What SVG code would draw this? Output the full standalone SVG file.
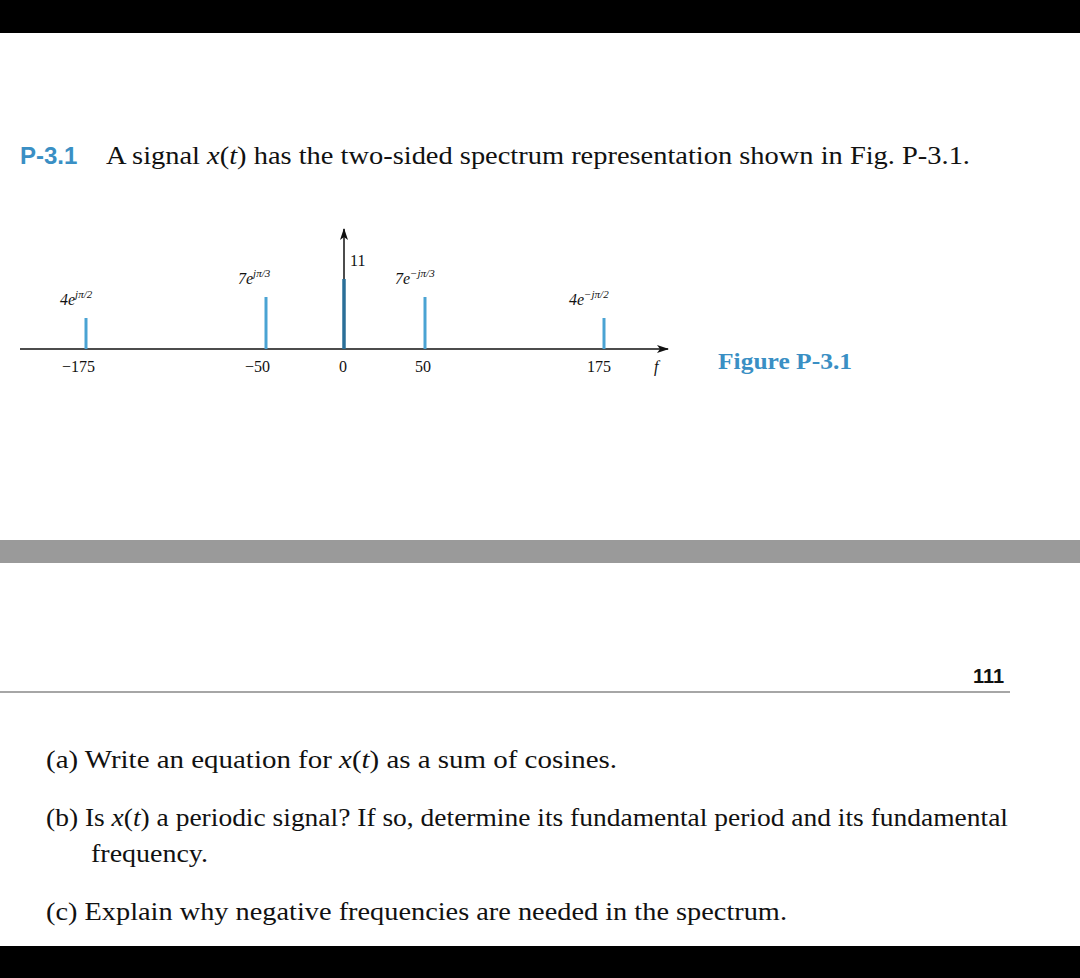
<svg xmlns="http://www.w3.org/2000/svg" width="1080" height="978" viewBox="0 0 1080 978">
<style>
.t{font-family:"Liberation Serif",serif;fill:#111}
.s{font-size:25px}
.m{font-size:16px}
.e{font-size:11px}
.stem{stroke:#4aa3d3;stroke-width:3}
</style>
<defs><marker id="ah" markerWidth="12" markerHeight="8" refX="11" refY="4" orient="auto" markerUnits="userSpaceOnUse"><path d="M0,0 L12,4 L0,8 L3,4 Z" fill="#111"/></marker></defs>
<rect width="1080" height="978" fill="#fff"/>
<rect x="0" y="0" width="1080" height="33" fill="#000"/>
<rect x="0" y="946" width="1080" height="32" fill="#000"/>
<rect x="0" y="540" width="1080" height="23" fill="#9a9a9a"/>
<text x="20" y="164" font-family="Liberation Sans,sans-serif" font-size="24" font-weight="bold" fill="#3a8fc4">P-3.1</text>
<text x="106" y="164" class="t s" textLength="864" lengthAdjust="spacingAndGlyphs">A signal <tspan font-style="italic">x</tspan>(<tspan font-style="italic">t</tspan>) has the two-sided spectrum representation shown in Fig. P-3.1.</text>
<g id="connectors">
<line x1="20" y1="349" x2="668" y2="349" stroke="#111" stroke-width="1.5" marker-end="url(#ah)"/>
<line x1="344" y1="349" x2="344" y2="229" stroke="#111" stroke-width="1.5" marker-end="url(#ah)"/>
</g>
<g id="s-175"><line class="stem" x1="86" y1="349" x2="86" y2="318"/><text x="60" y="305" class="t m" font-style="italic">4e<tspan class="e" dy="-7">jπ/2</tspan></text><text x="62" y="372" class="t m">−175</text></g>
<g id="s-50"><line class="stem" x1="266" y1="349" x2="266" y2="297"/><text x="238" y="284" class="t m" font-style="italic">7e<tspan class="e" dy="-7">jπ/3</tspan></text><text x="245" y="372" class="t m">−50</text></g>
<g id="s0"><line x1="344" y1="349" x2="344" y2="279" stroke="#2a6f98" stroke-width="3.5"/><text x="350" y="266" class="t m">11</text><text x="339" y="372" class="t m">0</text></g>
<g id="s50"><line class="stem" x1="425" y1="349" x2="425" y2="297"/><text x="395" y="284" class="t m" font-style="italic">7e<tspan class="e" dy="-7">−jπ/3</tspan></text><text x="415" y="372" class="t m">50</text></g>
<g id="s175"><line class="stem" x1="604" y1="349" x2="604" y2="318"/><text x="569" y="305" class="t m" font-style="italic">4e<tspan class="e" dy="-7">−jπ/2</tspan></text><text x="587" y="372" class="t m">175</text></g>
<text x="654" y="372" class="t m" font-style="italic">f</text>
<text x="718" y="369" font-family="Liberation Serif,serif" font-size="23" font-weight="bold" fill="#3a8fc4" textLength="134" lengthAdjust="spacingAndGlyphs">Figure P-3.1</text>
<text x="973" y="683" font-family="Liberation Sans,sans-serif" font-size="20" font-weight="bold" fill="#111">111</text>
<line x1="0" y1="692" x2="1010" y2="692" stroke="#888" stroke-width="1.5"/>
<text x="46" y="768" class="t s" textLength="571" lengthAdjust="spacingAndGlyphs">(a)  Write an equation for <tspan font-style="italic">x</tspan>(<tspan font-style="italic">t</tspan>) as a sum of cosines.</text>
<text x="46" y="826" class="t s" textLength="962" lengthAdjust="spacingAndGlyphs">(b)  Is <tspan font-style="italic">x</tspan>(<tspan font-style="italic">t</tspan>) a periodic signal? If so, determine its fundamental period and its fundamental</text>
<text x="91" y="862" class="t s" textLength="117" lengthAdjust="spacingAndGlyphs">frequency.</text>
<text x="46" y="920" class="t s" textLength="741" lengthAdjust="spacingAndGlyphs">(c)  Explain why negative frequencies are needed in the spectrum.</text>
</svg>
